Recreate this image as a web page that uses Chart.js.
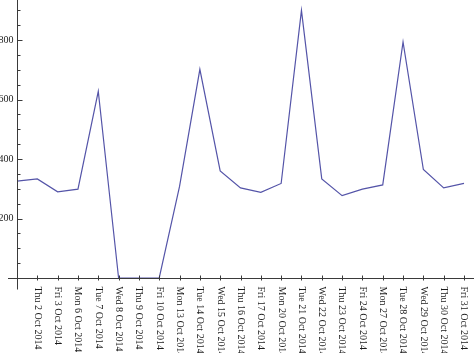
<!DOCTYPE html>
<html>
<head>
<meta charset="utf-8">
<script src="https://cdn.jsdelivr.net/npm/chart.js@4"></script>
<style>
  html, body { margin: 0; padding: 0; background: #fff; overflow: hidden; }
  #wrap { width: 474px; height: 353px; }
</style>
</head>
<body>
<div id="wrap"><canvas id="chart" width="474" height="353"></canvas></div>
<script>
// first day has a point but no tick label
const days = ['Wed 1 Oct 2014', 'Thu 2 Oct 2014', 'Fri 3 Oct 2014', 'Mon 6 Oct 2014', 'Tue 7 Oct 2014',
  'Wed 8 Oct 2014', 'Thu 9 Oct 2014', 'Fri 10 Oct 2014', 'Mon 13 Oct 2014', 'Tue 14 Oct 2014',
  'Wed 15 Oct 2014', 'Thu 16 Oct 2014', 'Fri 17 Oct 2014', 'Mon 20 Oct 2014', 'Tue 21 Oct 2014',
  'Wed 22 Oct 2014', 'Thu 23 Oct 2014', 'Fri 24 Oct 2014', 'Mon 27 Oct 2014', 'Tue 28 Oct 2014',
  'Wed 29 Oct 2014', 'Thu 30 Oct 2014', 'Fri 31 Oct 2014'];
const counts = [326, 333, 290, 299, 628, 0, 0, 0, 308, 702, 360, 303, 288, 318, 900,
  333, 277, 299, 313, 794, 365, 303, 318];
const yTicks = [200, 400, 600, 800];
const yMinorStep = 50;

const axisColor = '#3a3a3a';
const font = '10px "Liberation Serif", "Times New Roman", serif';

const axesPlugin = {
  id: 'mmaAxes',
  afterDraw(chart) {
    const ctx = chart.ctx;
    const xs = chart.scales.x, ys = chart.scales.y;
    const x0 = Math.round(xs.getPixelForValue(0)) + 0.5;
    const y0 = Math.round(ys.getPixelForValue(0)) + 0.5;
    ctx.save();
    ctx.strokeStyle = axisColor;
    ctx.lineWidth = 1;
    ctx.beginPath();
    ctx.moveTo(8, y0); ctx.lineTo(chart.width, y0);
    ctx.moveTo(x0, 0); ctx.lineTo(x0, y0 + 11);
    // y ticks
    for (let v = yMinorStep; v <= ys.max; v += yMinorStep) {
      const py = Math.round(ys.getPixelForValue(v)) + 0.5;
      const len = yTicks.includes(v) ? 5 : 3;
      ctx.moveTo(x0, py); ctx.lineTo(x0 + len, py);
    }
    // x ticks
    for (let i = 1; i < days.length; i++) {
      const px = Math.round(xs.getPixelForValue(i)) + 0.5;
      ctx.moveTo(px, y0 - 3); ctx.lineTo(px, y0 + 2);
    }
    ctx.stroke();

    ctx.fillStyle = '#1a1a1a';
    ctx.font = font;
    ctx.textAlign = 'right';
    ctx.textBaseline = 'middle';
    yTicks.forEach(v => ctx.fillText(String(v), x0 - 4, ys.getPixelForValue(v)));

    ctx.textAlign = 'left';
    for (let i = 1; i < days.length; i++) {
      ctx.save();
      ctx.translate(xs.getPixelForValue(i), y0 + 8);
      ctx.rotate(Math.PI / 2);
      ctx.fillText(days[i], 0, 0);
      ctx.restore();
    }
    ctx.restore();
  }
};

new Chart(document.getElementById('chart'), {
  type: 'line',
  data: {
    labels: days,
    datasets: [{
      data: counts,
      borderColor: 'rgb(84, 84, 168)',
      borderWidth: 1.2,
      pointRadius: 0,
      tension: 0,
      clip: 4
    }]
  },
  options: {
    responsive: false,
    animation: false,
    devicePixelRatio: 1,
    layout: { padding: { left: 17, right: 10, top: 0, bottom: 75 } },
    plugins: { legend: { display: false }, tooltip: { enabled: false } },
    scales: {
      x: { display: false, offset: false },
      y: { display: false, min: 0, max: 935 }
    }
  },
  plugins: [axesPlugin]
});
</script>
</body>
</html>
